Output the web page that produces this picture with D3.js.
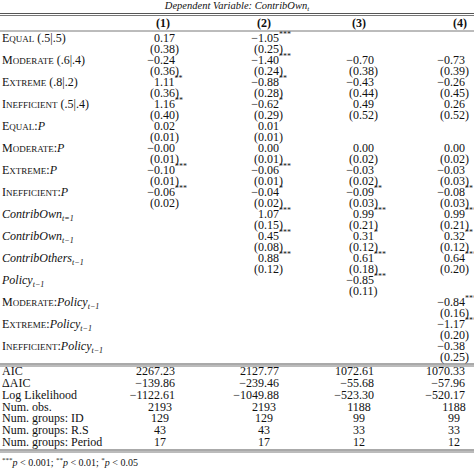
<!DOCTYPE html>
<html><head><meta charset="utf-8">
<script src="https://cdn.jsdelivr.net/npm/d3@7"></script>
<style>body{margin:0;background:#fff}svg text{font-family:"Liberation Serif","Times New Roman","DejaVu Serif",serif;fill:#111}</style>
</head><body><svg id="c" width="474" height="476"></svg>
<script>
const columns = ["(1)","(2)","(3)","(4)"];
const rowLabels = [
 [["Equal","sc"],[" (.5|.5)","n"]],
 [["Moderate","sc"],[" (.6|.4)","n"]],
 [["Extreme","sc"],[" (.8|.2)","n"]],
 [["Inefficient","sc"],[" (.5|.4)","n"]],
 [["Equal","sc"],[":","n"],["P","it"]],
 [["Moderate","sc"],[":","n"],["P","it"]],
 [["Extreme","sc"],[":","n"],["P","it"]],
 [["Inefficient","sc"],[":","n"],["P","it"]],
 [["ContribOwn","it"],["t=1","sub"]],
 [["ContribOwn","it"],["t−1","sub"]],
 [["ContribOthers","it"],["t−1","sub"]],
 [["Policy","it"],["t−1","sub"]],
 [["Moderate","sc"],[":","n"],["Policy","it"],["t−1","sub"]],
 [["Extreme","sc"],[":","n"],["Policy","it"],["t−1","sub"]],
 [["Inefficient","sc"],[":","n"],["Policy","it"],["t−1","sub"]]
];
const coef1 = ["0.17","−0.24","1.11**","1.16**","0.02","−0.00","−0.10***","−0.06***","","","","","","",""];
const se1   = ["0.38","0.36","0.36","0.40","0.01","0.01","0.01","0.02","","","","","","",""];
const coef2 = ["−1.05***","−1.40***","−0.88**","−0.62*","0.01","0.00","−0.06***","−0.04*","1.07***","0.45***","0.88***","","","",""];
const se2   = ["0.25","0.24","0.28","0.29","0.01","0.01","0.01","0.02","0.15","0.08","0.12","","","",""];
const coef3 = ["","−0.70","−0.43","0.49","","0.00","−0.03","−0.09**","0.99***","0.31*","0.61***","−0.85***","","",""];
const se3   = ["","0.38","0.44","0.52","","0.02","0.02","0.03","0.21","0.12","0.18","0.11","","",""];
const coef4 = ["","−0.73","−0.26","0.26","","0.00","−0.03","−0.08**","0.99***","0.32**","0.64***","","−0.84***","−1.17***","−0.38"];
const se4   = ["","0.39","0.45","0.52","","0.02","0.03","0.03","0.21","0.12","0.20","","0.16","0.20","0.25"];
const statLabels = ["AIC","ΔAIC","Log Likelihood","Num. obs.","Num. groups: ID","Num. groups: R.S","Num. groups: Period"];
const stats1 = ["2267.23","−139.86","−1122.61","2193","129","43","17"];
const stats2 = ["2127.77","−239.46","−1049.88","2193","129","43","17"];
const stats3 = ["1072.61","−55.68","−523.30","1188","99","33","12"];
const stats4 = ["1070.33","−57.96","−520.17","1188","99","33","12"];
const coefs=[coef1,coef2,coef3,coef4], ses=[se1,se2,se3,se4], stats=[stats1,stats2,stats3,stats4];

const svg=d3.select("#c");
const fs=12;
const decX={"(1)":160,"(2)":264,"(3)":359,"(4)":450};
const headX={"(1)":163,"(2)":264,"(3)":359,"(4)":460};
const yLine=d3.scaleLinear().domain([0,29]).range([42,361]);
const yStat=d3.scaleLinear().domain([0,6]).range([375,446]);

function rule(y,w){svg.append("line").attr("x1",0).attr("x2",474).attr("y1",y).attr("y2",y).attr("stroke","#555").attr("stroke-width",w||0.8);}
const tt=svg.append("text").attr("x",237).attr("y",9).attr("text-anchor","middle").attr("font-size",10.5).attr("font-style","italic");
tt.append("tspan").text("Dependent Variable: ContribOwn");
tt.append("tspan").attr("font-size",7).attr("dy",2).text("t");
rule(13.5,1);rule(15.5,0.8);
svg.selectAll(".hd").data(columns).join("text").attr("x",d=>headX[d]).attr("y",27).attr("text-anchor","middle").attr("font-weight","bold").attr("font-size",fs).text(d=>d);
rule(31,0.8);
rule(364,1);rule(366,0.8);
rule(450,1);rule(452,0.8);

function label(g,parts){
  parts.forEach(([t,s])=>{
    if(s==="sc"){g.append("tspan").attr("font-size",fs).text(t[0]);g.append("tspan").attr("font-size",fs*0.75).text(t.slice(1).toUpperCase());}
    else if(s==="it") g.append("tspan").attr("font-style","italic").attr("font-size",fs).text(t);
    else if(s==="sub") g.append("tspan").attr("font-style","italic").attr("font-size",8).attr("dy",3).text(t);
    else g.append("tspan").attr("font-size",fs).text(t);
  });
}
rowLabels.forEach((p,i)=>{label(svg.append("text").attr("x",2).attr("y",yLine(2*i)),p);});
statLabels.forEach((l,i)=>svg.append("text").attr("x",2).attr("y",yStat(i)).attr("font-size",fs).text(l));

function num(v,cx,y,paren){
  if(!v) return;
  const m=v.match(/^([^.]*)(\.\d+)?(\**)$/);
  const ip=m[1], fp=m[2]||"", st=m[3];
  svg.append("text").attr("x",cx).attr("y",y).attr("text-anchor","end").attr("font-size",fs).text((paren?"(":"")+ip);
  const t=svg.append("text").attr("x",cx).attr("y",y).attr("font-size",fs);
  t.append("tspan").text(fp+(paren?")":""));
  if(st) t.append("tspan").attr("font-size",8).attr("dy",-5).text(st);
}
columns.forEach((c,j)=>{
  coefs[j].forEach((v,i)=>num(v,decX[c],yLine(2*i),false));
  ses[j].forEach((v,i)=>num(v,decX[c],yLine(2*i+1),true));
  stats[j].forEach((v,i)=>{
    if(v.indexOf(".")<0) svg.append("text").attr("x",decX[c]+(j==3?4:0)).attr("y",yStat(i)).attr("text-anchor","middle").attr("font-size",fs).text(v);
    else num(v,decX[c],yStat(i),false);
  });
});
const f=svg.append("text").attr("x",2).attr("y",466).attr("font-size",10);
[["***","s"],["p","i"],[" < 0.001; ","n"],["**","s"],["p","i"],[" < 0.01; ","n"],["*","s"],["p","i"],[" < 0.05","n"]].forEach(([t,s])=>{
  const sp=f.append("tspan").text(t);
  if(s==="s") sp.attr("font-size",7).attr("dy",-4);
  if(s==="i") sp.attr("font-style","italic").attr("dy",4);
});
</script></body></html>
